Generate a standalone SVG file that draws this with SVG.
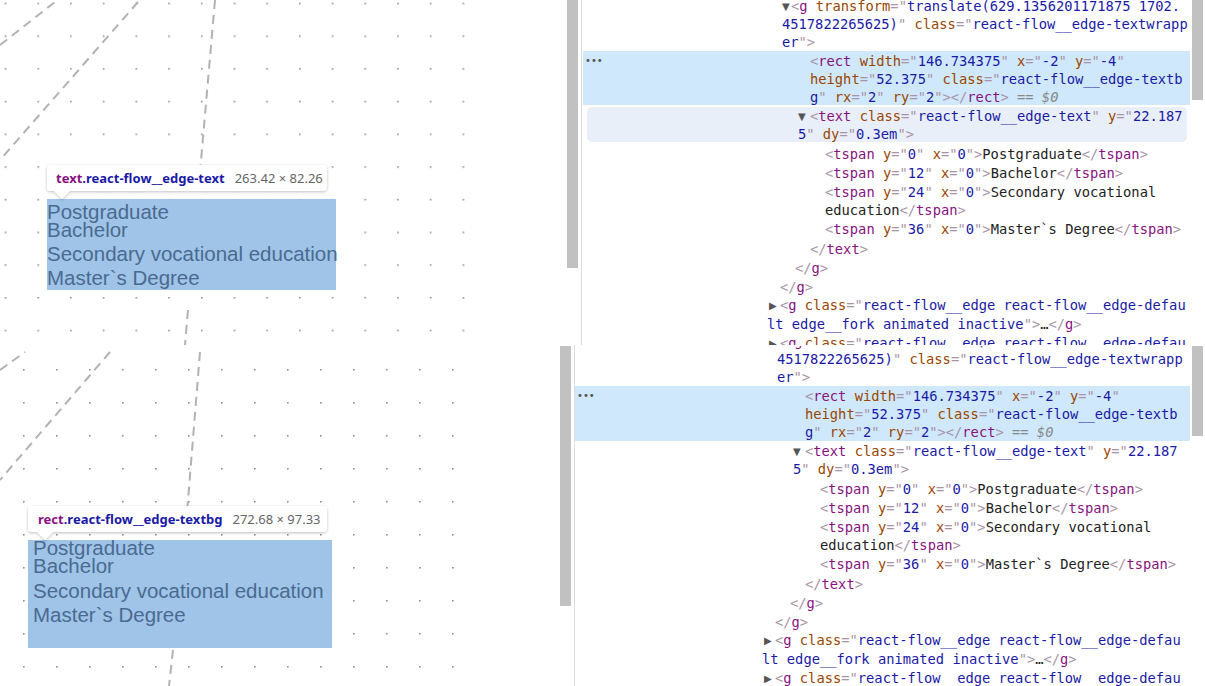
<svg xmlns="http://www.w3.org/2000/svg" xmlns:xlink="http://www.w3.org/1999/xlink" width="1205" height="686" viewBox="0 0 1205 686">
<style>
.m{font-family:"DejaVu Sans Mono","Liberation Mono",monospace;font-size:13.75px;white-space:pre}
.b{fill:#a894a6}.t{fill:#881280}.a{fill:#994500}.v{fill:#1a1aa6}.x{fill:#222}.g{fill:#888;font-style:italic}
.tri{font-family:"DejaVu Sans",sans-serif;font-size:10px;fill:#555}
.dash{stroke:#b1b1b7;stroke-width:2;stroke-dasharray:9 6;fill:none}
.hl{fill:#9fc4e8}
.ht{font-family:"Liberation Sans",Arial,sans-serif;font-size:20.5px;fill:#4b6a90}
.tip{fill:#fff;filter:url(#sh)}
.tt{font-family:"Noto Sans","Open Sans",sans-serif;font-size:13px}
.sb{fill:#c1c1c1}
</style>
<defs>
<pattern id="dots" x="4.7" y="2.7" width="32.7" height="32.7" patternUnits="userSpaceOnUse"><circle cx="0.8" cy="0.8" r="0.9" fill="#8a8a8a"/></pattern>
<pattern id="dots2" x="23" y="369" width="33" height="33" patternUnits="userSpaceOnUse"><circle cx="0.8" cy="0.8" r="0.9" fill="#8a8a8a"/></pattern>
<filter id="sh" x="-10%" y="-30%" width="120%" height="160%"><feDropShadow dx="0" dy="1" stdDeviation="1.5" flood-color="#000" flood-opacity="0.25"/></filter>
<clipPath id="ctop"><rect x="580" y="0" width="612" height="345"/></clipPath>
<clipPath id="cbot"><rect x="575" y="346" width="617" height="340"/></clipPath>
<g id="tree" class="m" xml:space="preserve">
<text class="tri" x="782" y="10">▼</text>
<text x="791" y="11"><tspan class="b">&lt;</tspan><tspan class="t">g</tspan> <tspan class="a">transform</tspan><tspan class="b">="</tspan><tspan class="v">translate(629.1356201171875 1702.</tspan></text>
<text x="782" y="29"><tspan class="v">4517822265625)</tspan><tspan class="b">"</tspan> <tspan class="a">class</tspan><tspan class="b">="</tspan><tspan class="v">react-flow__edge-textwrapp</tspan></text>
<text x="782" y="47"><tspan class="v">er</tspan><tspan class="b">"&gt;</tspan></text>
<text x="810" y="66"><tspan class="b">&lt;</tspan><tspan class="t">rect</tspan> <tspan class="a">width</tspan><tspan class="b">="</tspan><tspan class="v">146.734375</tspan><tspan class="b">"</tspan> <tspan class="a">x</tspan><tspan class="b">="</tspan><tspan class="v">-2</tspan><tspan class="b">"</tspan> <tspan class="a">y</tspan><tspan class="b">="</tspan><tspan class="v">-4</tspan><tspan class="b">"</tspan></text>
<text x="810" y="84"><tspan class="a">height</tspan><tspan class="b">="</tspan><tspan class="v">52.375</tspan><tspan class="b">"</tspan> <tspan class="a">class</tspan><tspan class="b">="</tspan><tspan class="v">react-flow__edge-textb</tspan></text>
<text x="810" y="102"><tspan class="v">g</tspan><tspan class="b">"</tspan> <tspan class="a">rx</tspan><tspan class="b">="</tspan><tspan class="v">2</tspan><tspan class="b">"</tspan> <tspan class="a">ry</tspan><tspan class="b">="</tspan><tspan class="v">2</tspan><tspan class="b">"&gt;&lt;/</tspan><tspan class="t">rect</tspan><tspan class="b">&gt;</tspan> <tspan class="g">== $0</tspan></text>
<text class="tri" x="798" y="120">▼</text>
<text x="810" y="121"><tspan class="b">&lt;</tspan><tspan class="t">text</tspan> <tspan class="a">class</tspan><tspan class="b">="</tspan><tspan class="v">react-flow__edge-text</tspan><tspan class="b">"</tspan> <tspan class="a">y</tspan><tspan class="b">="</tspan><tspan class="v">22.187</tspan></text>
<text x="798" y="139"><tspan class="v">5</tspan><tspan class="b">"</tspan> <tspan class="a">dy</tspan><tspan class="b">="</tspan><tspan class="v">0.3em</tspan><tspan class="b">"&gt;</tspan></text>
<text x="825" y="159"><tspan class="b">&lt;</tspan><tspan class="t">tspan</tspan> <tspan class="a">y</tspan><tspan class="b">="</tspan><tspan class="v">0</tspan><tspan class="b">"</tspan> <tspan class="a">x</tspan><tspan class="b">="</tspan><tspan class="v">0</tspan><tspan class="b">"&gt;</tspan><tspan class="x">Postgraduate</tspan><tspan class="b">&lt;/</tspan><tspan class="t">tspan</tspan><tspan class="b">&gt;</tspan></text>
<text x="825" y="178"><tspan class="b">&lt;</tspan><tspan class="t">tspan</tspan> <tspan class="a">y</tspan><tspan class="b">="</tspan><tspan class="v">12</tspan><tspan class="b">"</tspan> <tspan class="a">x</tspan><tspan class="b">="</tspan><tspan class="v">0</tspan><tspan class="b">"&gt;</tspan><tspan class="x">Bachelor</tspan><tspan class="b">&lt;/</tspan><tspan class="t">tspan</tspan><tspan class="b">&gt;</tspan></text>
<text x="825" y="197"><tspan class="b">&lt;</tspan><tspan class="t">tspan</tspan> <tspan class="a">y</tspan><tspan class="b">="</tspan><tspan class="v">24</tspan><tspan class="b">"</tspan> <tspan class="a">x</tspan><tspan class="b">="</tspan><tspan class="v">0</tspan><tspan class="b">"&gt;</tspan><tspan class="x">Secondary vocational</tspan></text>
<text x="825" y="215"><tspan class="x">education</tspan><tspan class="b">&lt;/</tspan><tspan class="t">tspan</tspan><tspan class="b">&gt;</tspan></text>
<text x="825" y="234"><tspan class="b">&lt;</tspan><tspan class="t">tspan</tspan> <tspan class="a">y</tspan><tspan class="b">="</tspan><tspan class="v">36</tspan><tspan class="b">"</tspan> <tspan class="a">x</tspan><tspan class="b">="</tspan><tspan class="v">0</tspan><tspan class="b">"&gt;</tspan><tspan class="x">Master`s Degree</tspan><tspan class="b">&lt;/</tspan><tspan class="t">tspan</tspan><tspan class="b">&gt;</tspan></text>
<text x="810" y="254"><tspan class="b">&lt;/</tspan><tspan class="t">text</tspan><tspan class="b">&gt;</tspan></text>
<text x="795" y="273"><tspan class="b">&lt;/</tspan><tspan class="t">g</tspan><tspan class="b">&gt;</tspan></text>
<text x="780" y="292"><tspan class="b">&lt;/</tspan><tspan class="t">g</tspan><tspan class="b">&gt;</tspan></text>
<text class="tri" x="769" y="309">▶</text>
<text x="780" y="310"><tspan class="b">&lt;</tspan><tspan class="t">g</tspan> <tspan class="a">class</tspan><tspan class="b">="</tspan><tspan class="v">react-flow__edge react-flow__edge-defau</tspan></text>
<text x="767" y="329"><tspan class="v">lt edge__fork animated inactive</tspan><tspan class="b">"&gt;</tspan><tspan class="x">…</tspan><tspan class="b">&lt;/</tspan><tspan class="t">g</tspan><tspan class="b">&gt;</tspan></text>
<text class="tri" x="769" y="347">▶</text>
<text x="780" y="348"><tspan class="b">&lt;</tspan><tspan class="t">g</tspan> <tspan class="a">class</tspan><tspan class="b">="</tspan><tspan class="v">react-flow__edge react-flow__edge-defau</tspan></text>
</g>
</defs>
<rect width="1205" height="686" fill="#fff"/>
<rect x="0" y="0" width="467" height="345" fill="url(#dots)"/>
<g id="connectors">
<path class="dash" d="M0 45 L55 2"/>
<path class="dash" d="M138 2 L0 160"/>
<path class="dash" d="M215 0 L200 172"/>
<path class="dash" d="M188 310 L185 345"/>
<path class="dash" d="M0 370 L25 352"/>
<path class="dash" d="M110 352 L0 480"/>
<path class="dash" d="M200 352 L186 525"/>
<path class="dash" d="M173 650 L169 686"/>
</g>
<rect x="0" y="346" width="458" height="340" fill="url(#dots2)"/>
<g id="label-top">
<rect class="hl" x="47" y="199" width="289" height="91"/>
<text class="ht" x="47" y="219">Postgraduate</text>
<text class="ht" x="47" y="237">Bachelor</text>
<text class="ht" x="47" y="261">Secondary vocational education</text>
<text class="ht" x="47" y="285">Master`s Degree</text>
<path class="tip" d="M50 165 H323 Q327 165 327 169 V187 Q327 191 323 191 H70 L62 199 L54 191 H50 Q47 191 47 187 V169 Q47 165 50 165 Z"/>
<text class="tt" x="56" y="183"><tspan fill="#881280" font-weight="bold">text</tspan><tspan fill="#1a1aa6" font-weight="bold">.react-flow__edge-text</tspan><tspan fill="#666" dx="10">263.42 × 82.26</tspan></text>
</g>
<g id="label-bottom">
<rect class="hl" x="28" y="540" width="304" height="108"/>
<text class="ht" x="33" y="555">Postgraduate</text>
<text class="ht" x="33" y="573">Bachelor</text>
<text class="ht" x="33" y="598">Secondary vocational education</text>
<text class="ht" x="33" y="622">Master`s Degree</text>
<path class="tip" d="M31 506 H323 Q327 506 327 510 V528 Q327 532 323 532 H53 L45 540 L37 532 H31 Q28 532 28 528 V510 Q28 506 31 506 Z"/>
<text class="tt" x="38" y="524"><tspan fill="#881280" font-weight="bold">rect</tspan><tspan fill="#1a1aa6" font-weight="bold">.react-flow__edge-textbg</tspan><tspan fill="#666" dx="10">272.68 × 97.33</tspan></text>
</g>
<g id="panel-top">
<rect class="sb" x="567" y="0" width="11" height="268"/>
<line x1="581.5" y1="0" x2="581.5" y2="345" stroke="#ddd"/>
<rect x="583" y="51" width="607" height="54" fill="#cfe8fc"/>
<rect x="587" y="107" width="600" height="35" rx="5" fill="#e9eff9"/>
<text x="585" y="64" font-family="DejaVu Sans,sans-serif" font-size="10" fill="#555">•••</text>
<use xlink:href="#tree" clip-path="url(#ctop)"/>
<rect class="sb" x="1192" y="0" width="11" height="100"/>
</g>
<g id="panel-bottom">
<rect x="557" y="345" width="648" height="341" fill="#fff"/>
<rect class="sb" x="560" y="346" width="11" height="260"/>
<line x1="574.5" y1="345" x2="574.5" y2="686" stroke="#ddd"/>
<rect x="575" y="386" width="615" height="55" fill="#cfe8fc"/>
<text x="577" y="399" font-family="DejaVu Sans,sans-serif" font-size="10" fill="#555">•••</text>
<g clip-path="url(#cbot)"><use xlink:href="#tree" transform="translate(-5 335)"/></g>
<rect class="sb" x="1192" y="346" width="11" height="90"/>
</g>
</svg>
